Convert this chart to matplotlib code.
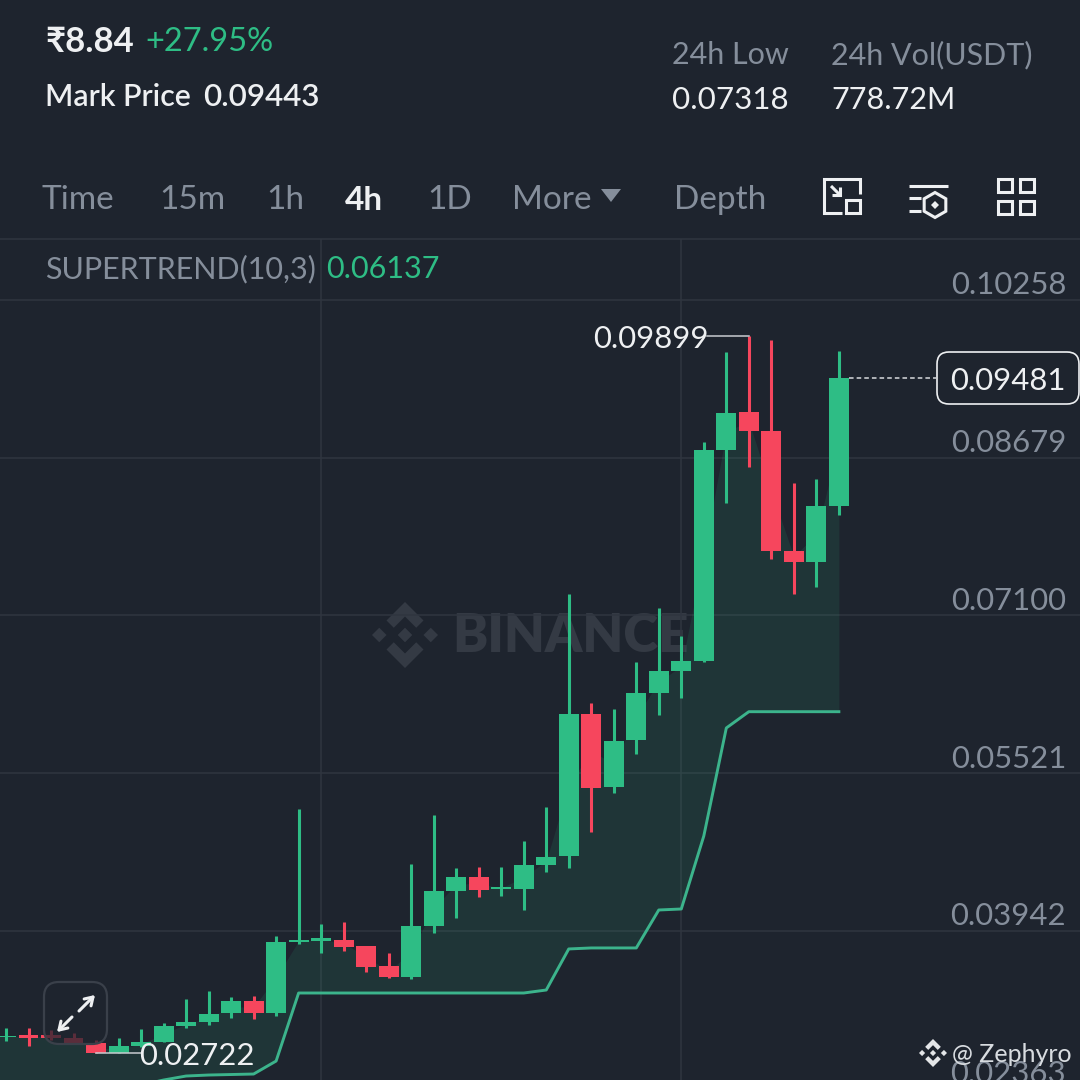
# -*- coding: utf-8 -*-
import numpy as np
import matplotlib
matplotlib.use('Agg')
import matplotlib.pyplot as plt
from matplotlib.patches import FancyBboxPatch, Polygon, Rectangle

plt.rcParams['font.family'] = ['Lato', 'DejaVu Sans']

# first candle is just off the left edge of the screen
opens = [.02901, .02881, .02901, .02901, .02871, .02821, .02725, .02791, .02831, .02991, .03031,
         .03121, .03241, .03121, .03832, .03842, .03852, .03792, .03591, .03481, .03992,
         .04342, .04482, .04362, .04362, .04602, .04692, .06114, .05383, .05854, .06324,
         .06544, .06644, .08756, .09137, .08947, .07745, .07635, .08196]
closes = [.02881, .02891, .02871, .02871, .02821, .02725, .02791, .02831, .02991, .03031, .03111,
          .03241, .03121, .03832, .03852, .03872, .03782, .03581, .03481, .03992, .04342,
          .04482, .04352, .04382, .04602, .04682, .06114, .05373, .05844, .06324, .06544,
          .06644, .08756, .09127, .08947, .07745, .07635, .08196, .09481]
highs = [.02950, .02971, .02971, .02951, .02921, .02851, .02871, .02961, .03021, .03261, .03341,
         .03281, .03291, .03892, .05163, .04012, .04032, .03792, .03721, .04612, .05103,
         .04572, .04582, .04582, .04843, .05183, .07315, .06224, .06164, .06634, .07175,
         .06895, .08837, .09737, .09899, .09858, .08426, .08466, .09747]
lows = [.02840, .02841, .02791, .02851, .02816, .02722, .02722, .02781, .02826, .02971, .03001,
        .03071, .03061, .03091, .03812, .03721, .03741, .03531, .03471, .03461, .03922,
        .04072, .04282, .04292, .04152, .04532, .04572, .04933, .05323, .05713, .06104,
        .06274, .06634, .08226, .08586, .07665, .07315, .07385, .08106]
supertrend = [.0225, .0225, .0225, .0225, .0228, .0230, .0232, .0240, .0245, .02490, .02500,
              .02505, .02510, .02640, .03321, .03321, .03321, .03321, .03321, .03321, .03321,
              .03321, .03321, .03321, .03321, .03351, .03762, .03772, .03772, .03772, .04152,
              .04162, .04893, .05974, .06137, .06137, .06137, .06137, .06137]
price_ticks = [0.10258, 0.08679, 0.07100, 0.05521, 0.03942, 0.02363]
high_label = 0.09899
low_label = 0.02722
last_price = 0.09481

BG = '#1e242e'
GRID = '#2f3540'
GREEN = '#2ebd85'
RED = '#f6465d'
GRAY = '#858e9b'
WHITE = '#eef0f2'

fig = plt.figure(figsize=(10.8, 10.8), dpi=100, facecolor=BG)


def pixel_axes(z):
    a = fig.add_axes([0, 0, 1, 1], zorder=z)
    a.set_xlim(0, 1080)
    a.set_ylim(1080, 0)
    a.axis('off')
    a.patch.set_alpha(0)
    return a


def logo(a, cx, cy, r, color, z=3):
    # binance diamond mark
    diamonds = [(0, 0), (-0.78, 0), (0.78, 0)]
    for dx, dy in diamonds:
        pts = [(dx, dy - .22), (dx + .22, dy), (dx, dy + .22), (dx - .22, dy)]
        a.add_patch(Polygon([(cx + p * r, cy + q * r) for p, q in pts], fc=color, ec='none', zorder=z))
    for s in (1, -1):
        pts = [(0, -1), (.56, -.44), (.34, -.22), (0, -.56), (-.34, -.22), (-.56, -.44)]
        a.add_patch(Polygon([(cx + p * r, cy + s * q * r) for p, q in pts], fc=color, ec='none', zorder=z))


back = pixel_axes(0)
ax = fig.add_axes([0, 0, 1, 1], zorder=1)
ax.patch.set_alpha(0)
ax.axis('off')
ui = pixel_axes(2)

# watermark sits behind the candles
logo(back, 405, 635, 33, '#343a44')
back.text(452, 636, 'BINANCE', color='#343a44', fontsize=38, fontweight='heavy', va='center', ha='left')

# price chart
xs = np.arange(len(opens)) - 1
ax.set_xlim(-6 / 22.51, (1080 - 6) / 22.51)
ax.set_ylim(0.13261 - 1080 * 0.0001001, 0.13261)
ax.set_autoscale_on(False)

ax.hlines(price_ticks, -1, 48, color=GRID, lw=1.1, zorder=1)
ax.vlines([14, 30], 0.02, 0.13261 - 239 * 0.0001001, color=GRID, lw=1.1, zorder=1)

# the band runs up to the middle of each body
mids = (np.array(opens) + np.array(closes)) / 2
ax.fill_between(xs, supertrend, mids, color=GREEN, alpha=0.115, lw=0, zorder=2)
ax.plot(xs, supertrend, color='#3cb48c', lw=2.1, zorder=3)

colors = [GREEN if c >= o else RED for o, c in zip(opens, closes)]
ax.vlines(xs, lows, highs, colors=colors, lw=2.2, zorder=4)
body = np.abs(np.array(closes) - np.array(opens))
ax.bar(xs, body, bottom=np.minimum(opens, closes), width=0.885, color=colors, lw=0, zorder=5)

for v in price_ticks:
    ax.annotate('%.5f' % v, xy=(1066 / 1080, v), xycoords=ax.get_yaxis_transform(), xytext=(0, 10.5),
                textcoords='offset points', ha='right', va='center', color=GRAY, fontsize=22.4,
                annotation_clip=False, zorder=6)

# high / low callouts
ax.plot([31.15, 33], [high_label, high_label], color='#c8ccd0', lw=1.1, zorder=6)
ax.annotate('%.5f' % high_label, xy=(31.2, high_label), xytext=(0, -2), textcoords='offset points',
            ha='right', va='center', color=WHITE, fontsize=22.4, zorder=7)
ax.plot([4, 6], [low_label, low_label], color='#c8ccd0', lw=1.1, zorder=6)
ax.annotate('%.5f' % low_label, xy=(5.9, low_label), xytext=(0, -2.5), textcoords='offset points',
            ha='left', va='center', color=WHITE, fontsize=22.4, zorder=7)

# last price tag
ax.plot([37.45, 41.3], [last_price, last_price], color='#d8dadd', lw=1.1, ls=(0, (3, 2)), zorder=6)
ui.add_patch(FancyBboxPatch((945, 360), 126, 36, boxstyle='round,pad=8,rounding_size=12',
                            fc=BG, ec=WHITE, lw=1.2))
ui.text(1008, 381, '%.5f' % last_price, color=WHITE, fontsize=22.4, ha='center', va='center')

# header
ui.text(45, 42, '₹8.84', color=WHITE, fontsize=25, fontweight='bold', va='center')
ui.text(145, 42, '+27.95%', color=GREEN, fontsize=23.5, va='center')
ui.text(45, 97, 'Mark Price', color=WHITE, fontsize=21.8, fontweight='semibold', va='center')
ui.text(203, 97, '0.09443', color=WHITE, fontsize=22.6, fontweight='semibold', va='center')
ui.text(672, 55, '24h Low', color=GRAY, fontsize=22, va='center')
ui.text(831, 55, '24h Vol(USDT)', color=GRAY, fontsize=22, va='center')
ui.text(672, 100, '0.07318', color=WHITE, fontsize=22.6, va='center')
ui.text(831, 100, '778.72M', color=WHITE, fontsize=22, va='center')

for x, s in [(42, 'Time'), (159, '15m'), (266, '1h'), (427, '1D'), (512, 'More'), (674, 'Depth')]:
    ui.text(x, 200, s, color=GRAY, fontsize=24, va='center')
ui.text(345, 200, '4h', color=WHITE, fontsize=24, fontweight='bold', va='center')
ui.add_patch(Polygon([(601, 189), (621, 189), (611, 202)], fc=GRAY, ec='none'))

ui.plot([0, 1080], [239, 239], color=GRID, lw=1.1)
ui.text(45, 269, 'SUPERTREND(10,3)', color=GRAY, fontsize=22, va='center')
ui.text(326, 269, '0.06137', color=GREEN, fontsize=22, va='center')

# toolbar icons
ICON = dict(color=WHITE, lw=2.2, solid_capstyle='butt', solid_joinstyle='miter')
ui.plot([860, 860, 824, 824, 842], [194, 179, 179, 213, 213], **ICON)
ui.add_patch(Rectangle((846, 200), 14, 13, fc='none', ec=WHITE, lw=2.2))
ui.plot([831, 840], [186, 195], **ICON)
ui.plot([832, 840, 840], [195, 195, 187], **ICON)

ui.plot([909, 948], [186, 186], **ICON)
ui.plot([909, 921], [198, 198], **ICON)
ui.plot([909, 921], [211, 211], **ICON)
ang = np.radians(np.arange(30, 390, 60))
ui.add_patch(Polygon(np.c_[935 + 12.5 * np.cos(ang), 205 + 12.5 * np.sin(ang)], fc='none', ec=WHITE, lw=2.2))
ui.add_patch(Polygon([(935, 201), (939, 205), (935, 209), (931, 205)], fc=WHITE, ec='none'))

for bx in (998, 1020):
    for by in (179, 201):
        ui.add_patch(Rectangle((bx, by), 14, 13, fc='none', ec=WHITE, lw=2.2))

# expand button over the chart
ui.add_patch(FancyBboxPatch((54, 992), 43, 42, boxstyle='round,pad=10,rounding_size=15',
                            fc=BG, alpha=0.72, ec='none'))
ui.add_patch(FancyBboxPatch((54, 992), 43, 42, boxstyle='round,pad=10,rounding_size=15',
                            fc='none', ec='#3a404a', lw=1.6))
ARROW = dict(arrowstyle='->,head_length=.55,head_width=.35', color=WHITE, lw=2.2, shrinkA=0, shrinkB=0)
ui.annotate('', xy=(95, 995), xytext=(79, 1011), arrowprops=ARROW)
ui.annotate('', xy=(57, 1032), xytext=(72, 1017), arrowprops=ARROW)

# footer mark
logo(ui, 933, 1053, 14, '#e4e6e8')
ui.text(952, 1055, '@ Zephyro', color='#d8dce0', fontsize=18, va='center')

fig.savefig('out.png', dpi=100, facecolor=BG)
